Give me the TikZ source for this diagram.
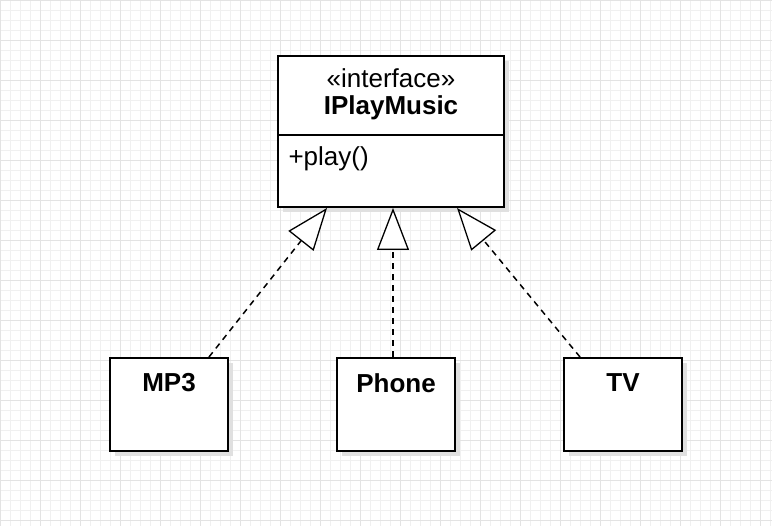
\documentclass[tikz,border=0pt]{standalone}
\usepackage{fontspec}
\setmainfont{Liberation Sans}
\usetikzlibrary{arrows.meta}
\begin{document}
\begin{tikzpicture}[x=1pt,y=-1pt,
  shad/.style={fill=black!12},
  real/.style={dash pattern=on 6pt off 5pt,line width=1.5pt,-{Triangle[open,length=42pt,width=32pt,fill=white,line width=1.3pt]}},
  txt/.style={font=\fontsize{26}{30}\selectfont},
  lbl/.style={font=\fontsize{26}{30}\selectfont\bfseries}]
\useasboundingbox (0,0) rectangle (772,526);
\fill[white] (0,0) rectangle (772,526);
\foreach \i in {0,10,...,780} \draw[black!6,line width=0.5pt] (\i,0) -- (\i,526);
\foreach \i in {0,10,...,530} \draw[black!6,line width=0.5pt] (0,\i) -- (772,\i);
\foreach \i in {0,40,...,780} \draw[black!11,line width=0.5pt] (\i,0) -- (\i,526);
\foreach \i in {0,40,...,530} \draw[black!11,line width=0.5pt] (0,\i) -- (772,\i);
% shadows
\fill[shad] (283,61) rectangle (509,212);
\fill[shad] (115,363) rectangle (233,456);
\fill[shad] (342,363) rectangle (460,456);
\fill[shad] (569,363) rectangle (687,456);
% interface
\draw[line width=1.3pt,fill=white] (278,56) rectangle (504,207);
\draw[line width=1.3pt] (278,135) -- (504,135);
\node[txt] (st) at (391,78) {«interface»};
\node[lbl] (nm) at (391,108) {IPlayMusic};
\node[txt,anchor=west] (op) at (285,159) {+play()};
\coordinate (t1) at (327,208);
\coordinate (t2) at (393,208);
\coordinate (t3) at (457,208);
% classes
\draw[line width=1.3pt,fill=white] (110,358) rectangle (228,451);
\draw[line width=1.3pt,fill=white] (337,358) rectangle (455,451);
\draw[line width=1.3pt,fill=white] (564,358) rectangle (682,451);
\node[lbl] (mp3) at (169,383) {MP3};
\node[lbl] (ph) at (396,383) {Phone};
\node[lbl] (tv) at (623,383) {TV};
\coordinate (s1) at (209,357);
\coordinate (s2) at (393,357);
\coordinate (s3) at (580,357);
\draw[real] (s1) -- (t1);
\draw[real] (s2) -- (t2);
\draw[real] (s3) -- (t3);
\end{tikzpicture}
\end{document}
